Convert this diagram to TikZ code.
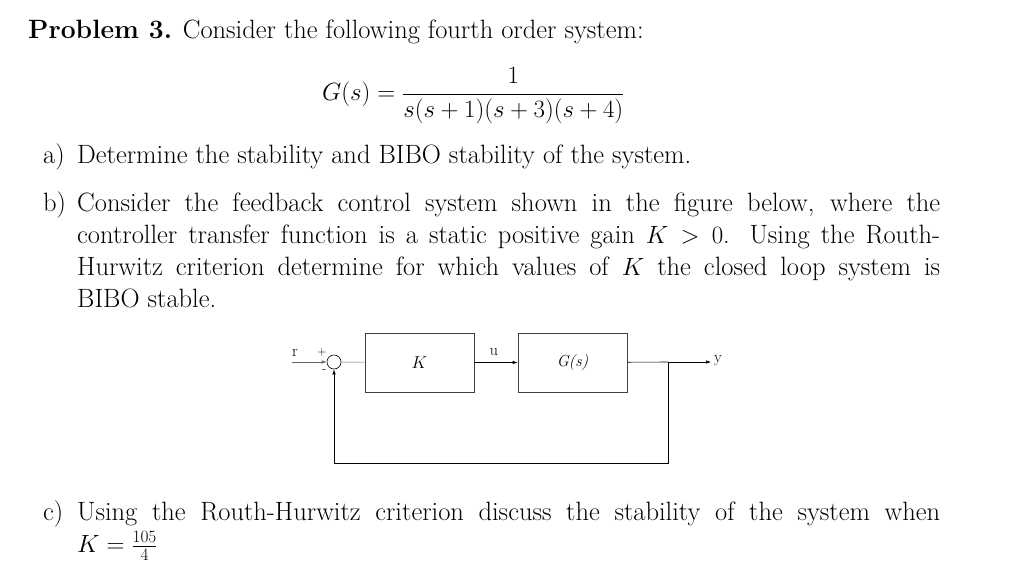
\documentclass[tikz,border=0pt]{standalone}
\usetikzlibrary{arrows.meta}
\begin{document}
\begin{tikzpicture}[x=1pt,y=-1pt,
  txt/.style={anchor=base west,inner sep=0,font=\fontsize{26.5}{32}\selectfont},
  para/.style={anchor=base west,inner sep=0,text width=863pt,align=justify,font=\fontsize{26.5}{32}\selectfont},
  blk/.style={draw=black!75,line width=0.6pt,minimum width=109pt,minimum height=59pt,inner sep=0},
  sig/.style={line width=0.6pt},
  arr/.style={sig,-{Latex[length=5pt,width=3.5pt]}},
  lab/.style={inner sep=0,font=\fontsize{16}{16}\selectfont}]
\useasboundingbox (0,0) rectangle (1024,573);
\fill[white] (0,0) rectangle (1024,573);
\node[txt] (t0) at (28,38) {\textbf{Problem 3.} Consider the following fourth order system:};
\node[txt] (eq) at (322,100) {$\displaystyle G(s)=\frac{1}{s(s+1)(s+3)(s+4)}$};
\node[txt] (al) at (43,163) {a)};
\node[txt] (at) at (77,163) {Determine the stability and BIBO stability of the system.};
\node[txt] (bl) at (43,211) {b)};
\node[para] (bt) at (77,211) {Consider the feedback control system shown in the figure below, where the\linebreak controller transfer function is a static positive gain $K>0$. Using the Routh-\linebreak Hurwitz criterion determine for which values of $K$ the closed loop system is\linebreak BIBO stable.};
\node[txt] (cl) at (43,520) {c)};
\node[para] (ct) at (77,520) {Using the Routh-Hurwitz criterion discuss the stability of the system when\linebreak $K=\frac{105}{4}$};
% diagram
\node[draw,circle,line width=0.6pt,minimum size=14pt,inner sep=0] (sum) at (334,362) {};
\node[blk] (K) at (419.5,362.5) {\fontsize{16}{16}\selectfont$K$};
\node[blk] (G) at (572.5,362.5) {\fontsize{16}{16}\selectfont\itshape G(s)};
\coordinate (rin) at (292,362);
\coordinate (br) at (668,362);
\coordinate (yout) at (711,362);
\coordinate (bot) at (668,463);
\draw[arr,draw=black!60] (rin) -- (sum);
\draw[sig,draw=black!60] (sum) -- (K);
\draw[arr] (K) -- (G);
\draw[sig] (G) -- (br);
\draw[arr] (br) -- (yout);
\draw[arr] (br) -- (bot) -| (sum);
\node[lab] (r) at (295,353) {r};
\node[lab] (y) at (718,361) {y};
\node[lab] (u) at (494,352) {u};
\node[lab,font=\fontsize{12}{12}\selectfont] (pl) at (322,352) {+};
\node[lab,font=\fontsize{12}{12}\selectfont] (mi) at (324,371) {-};
\end{tikzpicture}
\end{document}
